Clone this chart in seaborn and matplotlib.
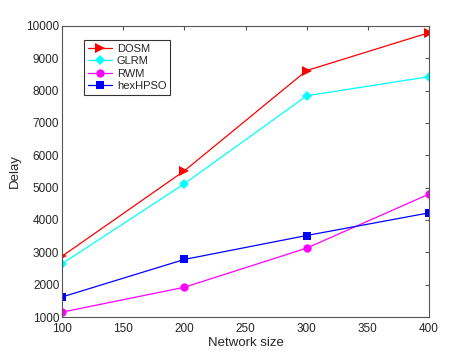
import numpy as np
import pandas as pd
import matplotlib
matplotlib.use('Agg')
import matplotlib.pyplot as plt
import seaborn as sns

sns.set_style('white')
plt.rcParams['font.family'] = ['Liberation Sans', 'DejaVu Sans']

network_size = [100, 200, 300, 400]
dosm = [2880, 5520, 8620, 9790]
glrm = [2650, 5120, 7840, 8430]
rwm = [1150, 1920, 3130, 4800]
hexhpso = [1620, 2780, 3520, 4220]

series = ['DOSM', 'GLRM', 'RWM', 'hexHPSO']
colors = ['#ff0000', '#00ffff', '#ff00ff', '#0000ff']
markers = ['>', 'D', 'o', 's']
msizes = [7, 5.5, 6, 5.5]

df = pd.DataFrame({
    'size': network_size * 4,
    'delay': dosm + glrm + rwm + hexhpso,
    'method': np.repeat(series, len(network_size)),
})

fig = plt.figure(figsize=(4.74, 3.55), dpi=100)
ax = fig.add_axes([0.131, 0.107, 0.774, 0.820])

sns.lineplot(data=df, x='size', y='delay', hue='method', style='method',
             palette=dict(zip(series, colors)), markers=dict(zip(series, markers)),
             dashes=False, markeredgewidth=0, linewidth=0.9, ax=ax)

# per-series marker sizes
for line, ms in zip(ax.get_lines(), msizes):
    line.set_markersize(ms)

ax.set_xlim(100, 400)
ax.set_ylim(1000, 10000)
ax.set_xticks(np.arange(100, 401, 50))
ax.set_yticks(np.arange(1000, 10001, 1000))
ax.set_xlabel('Network size', fontsize=9.5, labelpad=2)
ax.set_ylabel('Delay', fontsize=9.5)
ax.tick_params(direction='in', length=3, labelsize=8.5, color='#555555',
               top=True, right=True, labeltop=False, labelright=False)
ax.tick_params(axis='x', pad=4)
ax.tick_params(axis='y', pad=2)
for sp in ax.spines.values():
    sp.set_color('#555555')
    sp.set_linewidth(0.8)

leg = ax.legend(loc='upper left', bbox_to_anchor=(0.045, 0.97), fontsize=8,
                frameon=True, fancybox=False, edgecolor='black',
                handlelength=2.2, borderpad=0.35, labelspacing=0.2,
                handletextpad=0.4)
leg.get_frame().set_linewidth(0.8)
for h, ms in zip(leg.get_lines(), msizes):
    h.set_markersize(ms)

fig.savefig('out.png', dpi=100)
plt.close(fig)
